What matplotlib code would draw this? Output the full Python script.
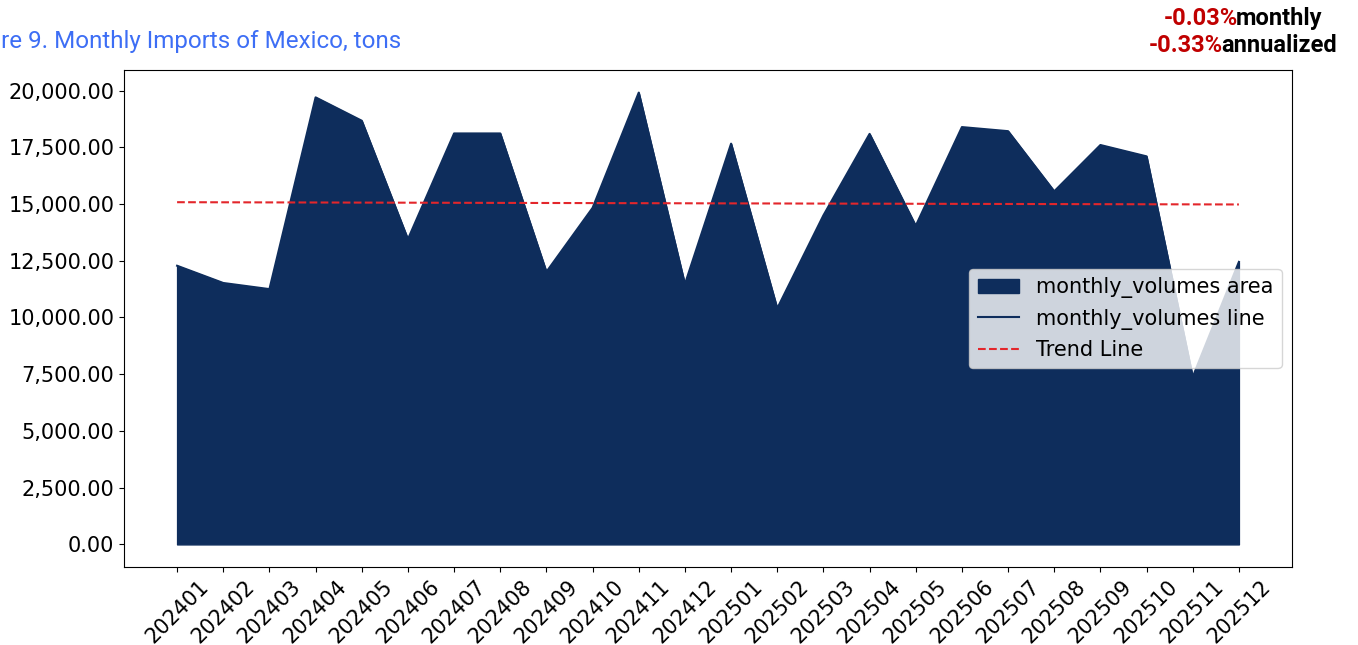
import matplotlib.pyplot as plt
import matplotlib.ticker as mticker
import numpy as np

months = ["202401", "202402", "202403", "202404", "202405", "202406",
          "202407", "202408", "202409", "202410", "202411", "202412",
          "202501", "202502", "202503", "202504", "202505", "202506",
          "202507", "202508", "202509", "202510", "202511", "202512"]
monthly_volumes = [12280, 11520, 11250, 19700, 18670, 13450,
                   18110, 18110, 12010, 14830, 19910, 11470,
                   17660, 10400, 14500, 18090, 14040, 18390,
                   18210, 15560, 17600, 17100, 7380, 12450]
trend_ends = [15080, 14980]
monthly_rate = "-0.03%"
annual_rate = "-0.33%"
title = "Figure 9. Monthly Imports of Mexico, tons"

NAVY = "#0e2d5c"

fig = plt.figure(figsize=(13.58, 6.45), dpi=100)
W, H = 1358, 645
ax = fig.add_axes([124 / W, (H - 567) / H, (1292 - 124) / W, (567 - 70) / H])

x = np.arange(len(months))
ax.fill_between(x, monthly_volumes, color=NAVY, label="monthly_volumes area")
ax.plot(x, monthly_volumes, color=NAVY, linewidth=1.5, label="monthly_volumes line")
ax.plot([x[0], x[-1]], trend_ends, color="#e3262b", linestyle="--",
        linewidth=1.5, label="Trend Line")

ax.set_xticks(x)
ax.set_xticklabels(months, rotation=45, fontsize=15)
ax.yaxis.set_major_formatter(mticker.StrMethodFormatter("{x:,.2f}"))
ax.tick_params(axis="y", labelsize=15)

ax.legend(loc="center right", fontsize=15)

fig.text(-45 / W, (H - 48) / H, title, color="#3d6ef5", fontsize=17.4,
         family="Roboto", va="baseline", ha="left")

# two-tone annotation, each line centred at the same x
fig.canvas.draw()
renderer = fig.canvas.get_renderer()
cx = 1244
for baseline, red, black in [(25, monthly_rate, "monthly"),
                             (52, annual_rate, "annualized")]:
    t1 = fig.text(0, 0, red, color="#c00000", fontsize=17, family="Roboto",
                  weight="bold", va="baseline")
    t2 = fig.text(0, 0, black, color="black", fontsize=17, family="Roboto",
                  weight="bold", va="baseline")
    w1 = t1.get_window_extent(renderer).width
    w2 = t2.get_window_extent(renderer).width
    x0 = cx - (w1 + w2) / 2
    t1.set_position((x0 / W, (H - baseline) / H))
    t2.set_position(((x0 + w1 - 2) / W, (H - baseline) / H))

fig.savefig("out.png", dpi=100)
